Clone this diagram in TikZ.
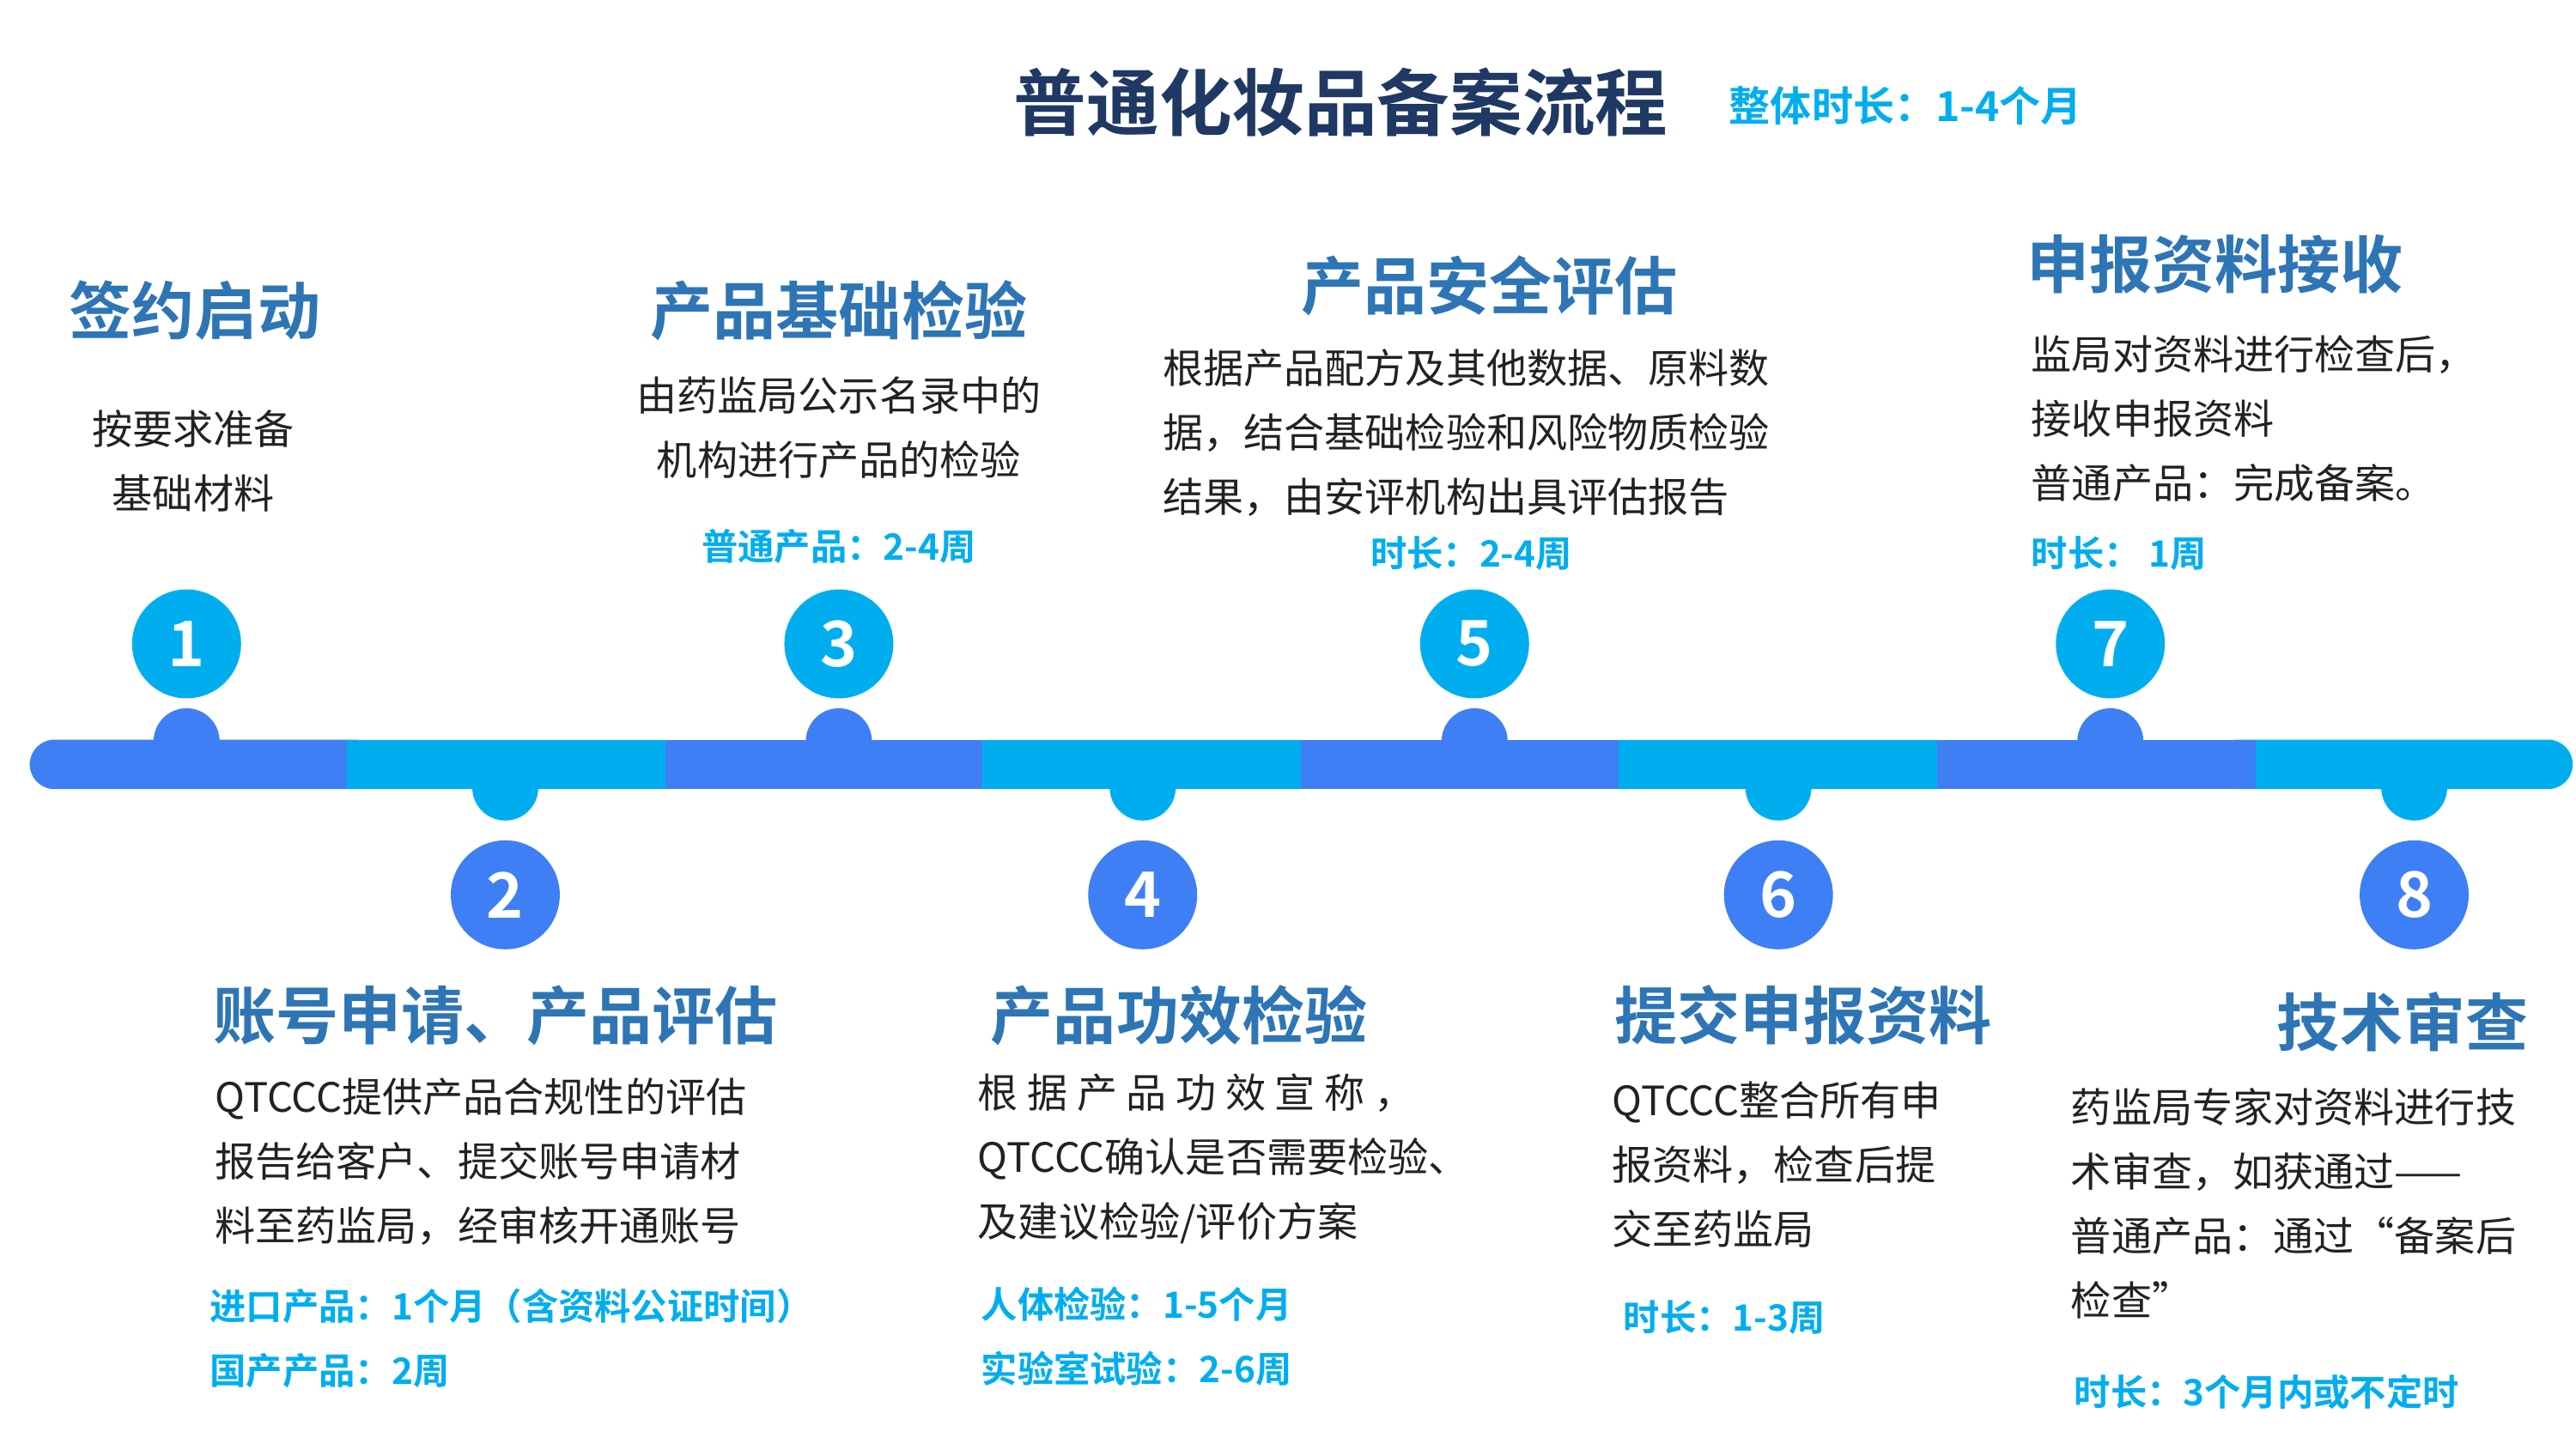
\documentclass[tikz,border=0pt]{standalone}
\usepackage{fontspec}
\setmainfont{Noto Sans CJK SC}
\newfontfamily\cjkb{Noto Sans CJK SC Bold}
\definecolor{cblue}{HTML}{3F7FF5}
\definecolor{ccyan}{HTML}{00AEEF}
\definecolor{head}{HTML}{2E75B6}
\definecolor{navy}{HTML}{1F3864}
\definecolor{bodyc}{HTML}{222222}
\begin{document}
\begin{tikzpicture}[x=1pt,y=-1pt,
  hd/.style={inner sep=0,font=\cjkb\fontsize{38}{42}\selectfont,text=head},
  bd/.style={inner sep=0,font=\fontsize{24.5}{39}\selectfont,text=bodyc},
  tm/.style={inner sep=0,font=\cjkb\fontsize{22}{39}\selectfont,text=ccyan,anchor=west},
  num/.style={circle,minimum size=66pt,inner sep=0,text=white,font=\cjkb\fontsize{38}{40}\selectfont}]
\useasboundingbox (0,0) rectangle (1560,878);
% bar
\fill[cblue,rounded corners=15pt] (18,448) rectangle (230,478);
\fill[ccyan,rounded corners=15pt] (1340,448) rectangle (1558,478);
\foreach \a/\b/\c in {210/403/ccyan,403/595/cblue,595/788/ccyan,788/980/cblue,980/1173/ccyan,1173/1366/cblue}{
  \fill[\c] (\a,448) rectangle (\b,478);}
\fill[cblue] (190,448) rectangle (210,478);
\fill[ccyan] (1366,448) rectangle (1380,478);
% bumps
\foreach \x in {113,508,893,1278}{\fill[cblue] (\x-20,449) arc[start angle=180,end angle=360,radius=20];}
\foreach \x in {306,692,1077,1462}{\fill[ccyan] (\x-20,477) arc[start angle=180,end angle=0,radius=20];}
% circles
\node[num,fill=ccyan] (n1) at (113,390) {1};
\node[num,fill=ccyan] (n3) at (508,390) {3};
\node[num,fill=ccyan] (n5) at (893,390) {5};
\node[num,fill=ccyan] (n7) at (1278,390) {7};
\node[num,fill=cblue] (n2) at (306,542) {2};
\node[num,fill=cblue] (n4) at (692,542) {4};
\node[num,fill=cblue] (n6) at (1077,542) {6};
\node[num,fill=cblue] (n8) at (1462,542) {8};
% title
\node[inner sep=0,font=\cjkb\fontsize{44}{48}\selectfont,text=navy] (title) at (812,62) {普通化妆品备案流程};
\node[tm,font=\cjkb\fontsize{25}{30}\selectfont] (total) at (1047,64) {整体时长：1-4个月};
% step 1
\node[hd] (h1) at (118,188) {签约启动};
\node[bd,align=center,anchor=north] (b1) at (117,248) {按要求准备\\基础材料};
% step 3
\node[hd] (h3) at (508,188) {产品基础检验};
\node[bd,align=center,anchor=north] (b3) at (508,228) {由药监局公示名录中的\\机构进行产品的检验};
\node[tm,anchor=center] (t3) at (508,331) {普通产品：2-4周};
% step 5
\node[hd] (h5) at (902,173) {产品安全评估};
\node[bd,align=left,anchor=north west] (b5) at (704,211) {根据产品配方及其他数据、原料数\\据，结合基础检验和风险物质检验\\结果，由安评机构出具评估报告};
\node[tm,anchor=center] (t5) at (891,335) {时长：2-4周};
% step 7
\node[hd,anchor=west] (h7) at (1227,160) {申报资料接收};
\node[bd,align=left,anchor=north west] (b7) at (1230,203) {监局对资料进行检查后，\\接收申报资料\\普通产品：完成备案。};
\node[tm] (t7) at (1230,335) {时长： 1周};
% step 2
\node[hd] (h2) at (300,615) {账号申请、产品评估};
\node[bd,align=left,anchor=north west] (b2) at (130,653) {QTCCC提供产品合规性的评估\\报告给客户、提交账号申请材\\料至药监局，经审核开通账号};
\node[tm] (t2a) at (127,791) {进口产品：1个月（含资料公证时间）};
\node[tm] (t2b) at (127,830) {国产产品：2周};
% step 4
\node[hd] (h4) at (714,615) {产品功效检验};
\node[bd,align=left,anchor=north west] (b4) at (592,650) {根 据 产 品 功 效 宣 称 ，\\QTCCC确认是否需要检验、\\及建议检验/评价方案};
\node[tm] (t4a) at (594,790) {人体检验：1-5个月};
\node[tm] (t4b) at (594,829) {实验室试验：2-6周};
% step 6
\node[hd] (h6) at (1092,615) {提交申报资料};
\node[bd,align=left,anchor=north west] (b6) at (976,655) {QTCCC整合所有申\\报资料，检查后提\\交至药监局};
\node[tm] (t6) at (983,798) {时长：1-3周};
% step 8
\node[hd] (h8) at (1455,619) {技术审查};
\node[bd,align=left,anchor=north west] (b8) at (1254,659) {药监局专家对资料进行技\\术审查，如获通过——\\普通产品：通过“备案后\\检查”};
\node[tm] (t8) at (1256,843) {时长：3个月内或不定时};
\end{tikzpicture}
\end{document}
